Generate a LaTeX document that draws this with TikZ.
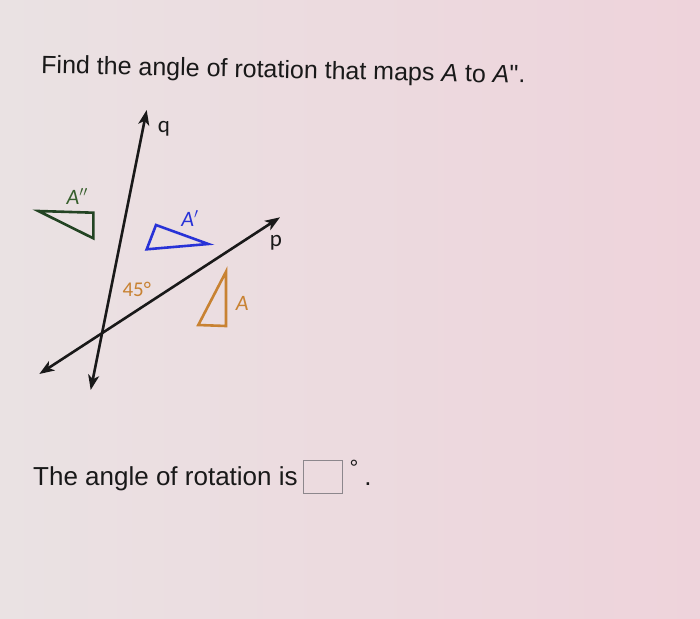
\documentclass[tikz,border=0pt]{standalone}
\usepackage{fontspec}
\setmainfont{Liberation Sans}[Ligatures=TeXOff]
\newfontfamily\lblfont{Carlito}
\usetikzlibrary{arrows.meta}
\definecolor{bgl}{RGB}{234,226,227}
\definecolor{bgr}{RGB}{238,211,219}
\definecolor{tgreen}{RGB}{35,68,35}
\definecolor{lgreen}{RGB}{55,95,45}
\definecolor{tblue}{RGB}{40,50,215}
\definecolor{torange}{RGB}{200,130,50}
\definecolor{txt}{RGB}{25,25,25}
\definecolor{boxgray}{RGB}{140,135,140}
\tikzset{
  axis/.style={line width=2.6pt, txt, {Stealth[length=15pt,width=11pt,inset=4pt]}-{Stealth[length=15pt,width=11pt,inset=4pt]}},
  tri/.style={line width=2.6pt, line join=miter},
  lbl/.style={font=\lblfont\fontsize{23}{26}\selectfont, inner sep=0pt},
  ilbl/.style={font=\lblfont\itshape\fontsize{22}{26}\selectfont, inner sep=0pt},
  body/.style={font=\fontsize{25}{30}\selectfont, text=txt, inner sep=0pt}
}
\begin{document}
\begin{tikzpicture}[x=1pt,y=-1pt]
\path[use as bounding box] (0,0) rectangle (700,618);
\shade[left color=bgl, right color=bgr] (0,0) rectangle (700,618);
% title
\node[body, anchor=base west, rotate=-1.2] (title) at (41,73) {Find the angle of rotation that maps \textit{A} to \textit{A}".};
% lines
\coordinate (qt) at (146.7,110);
\coordinate (qb) at (90.7,390);
\coordinate (pt) at (280,217.3);
\coordinate (pb) at (39.3,374);
\draw[axis] (qb) -- (qt);
\draw[axis] (pb) -- (pt);
\node[lbl, text=txt] (q) at (164,129) {q};
\node[lbl, text=txt] (p) at (276,243) {p};
% triangles
\draw[tri, tgreen] (38.3,211) -- (93.3,212.7) -- (93.3,238.3) -- cycle;
\node[ilbl, text=lgreen] (App) at (77.3,196.7) {A$''$};
\draw[tri, tblue] (156,225) -- (208.3,244) -- (146.7,249.3) -- cycle;
\node[ilbl, text=tblue] (Ap) at (190,218.3) {A$'$};
\draw[tri, torange] (226,271.7) -- (226,326) -- (198.3,325) -- cycle;
\node[ilbl, text=torange] (A) at (242.3,303.3) {A};
\node[lbl, text=torange, font=\lblfont\fontsize{21}{24}\selectfont] (ang) at (136.7,289.3) {45°};
% bottom
\node[body, anchor=base west, font=\fontsize{26}{30}\selectfont] (ans) at (33,485) {The angle of rotation is};
\draw[boxgray, line width=1pt] (303,460) rectangle (342,493);
\node[body, font=\fontsize{22}{26}\selectfont] (deg) at (354,468) {°};
\node[body, anchor=base, font=\fontsize{26}{30}\selectfont] (dot) at (368,485) {.};
\end{tikzpicture}
\end{document}
